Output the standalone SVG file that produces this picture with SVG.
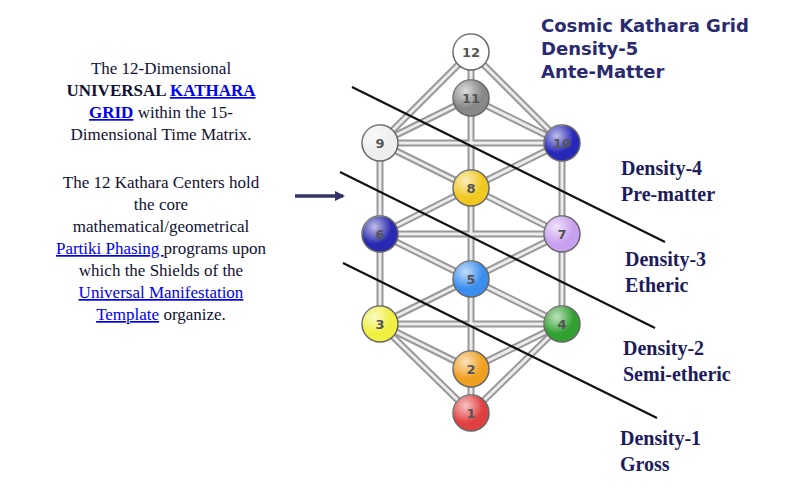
<svg xmlns="http://www.w3.org/2000/svg" width="790" height="493" viewBox="0 0 790 493">
<defs>
<style>
.t{font-family:"Liberation Serif",serif;font-size:17px;fill:#111133;text-anchor:middle}
.a{fill:#0000ee;text-decoration:underline}
.d{font-family:"Liberation Serif",serif;font-size:20px;font-weight:bold;fill:#1c1c5c}
.c{font-family:"DejaVu Sans",sans-serif;font-size:18px;font-weight:bold;fill:#2a2a70}
.eo{stroke:#999;stroke-width:7;fill:none}
.ei{stroke:#ececec;stroke-width:3;fill:none}
.n{stroke:#666;stroke-width:1.5}
.nl{font-family:"DejaVu Sans",sans-serif;font-size:13px;font-weight:bold;fill:#555;text-anchor:middle}
.dl{stroke:#111;stroke-width:2.2}
</style>
<radialGradient id="g" cx="0.35" cy="0.3" r="0.8"><stop offset="0" stop-color="#fff" stop-opacity="0.7"/><stop offset="0.6" stop-color="#fff" stop-opacity="0"/></radialGradient>
<marker id="ar" markerWidth="10" markerHeight="10" refX="8" refY="5" orient="auto" markerUnits="userSpaceOnUse"><path d="M0,0 L10,5 L0,10 z" fill="#333366"/></marker>
</defs>
<rect width="790" height="493" fill="#fff"/>
<g id="text-left">
<text class="t" x="161" y="74">The 12-Dimensional</text>
<text class="t" x="161" y="96"><tspan font-weight="bold">UNIVERSAL </tspan><tspan class="a" font-weight="bold">KATHARA</tspan></text>
<text class="t" x="161" y="118"><tspan class="a" font-weight="bold">GRID</tspan> within the 15-</text>
<text class="t" x="161" y="140">Dimensional Time Matrix.</text>
<text class="t" x="161" y="188">The 12 Kathara Centers hold</text>
<text class="t" x="161" y="210">the core</text>
<text class="t" x="161" y="232">mathematical/geometrical</text>
<text class="t" x="161" y="254"><tspan class="a">Partiki Phasing </tspan>programs upon</text>
<text class="t" x="161" y="276">which the Shields of the</text>
<text class="t" x="161" y="298"><tspan class="a">Universal Manifestation</tspan></text>
<text class="t" x="161" y="320"><tspan class="a">Template</tspan> organize.</text>
</g>
<g id="connectors">
<path class="eo" d="M471,52L471,98 M471,52L380,143 M471,52L562,143 M471,98L380,143 M471,98L562,143 M471,98L471,369 M380,143L562,143 M380,143L471,188 M562,143L471,188 M380,143L380,324 M562,143L562,324 M471,188L380,234 M471,188L562,234 M380,234L562,234 M380,234L471,279 M562,234L471,279 M471,279L380,324 M471,279L562,324 M380,324L562,324 M380,324L471,369 M562,324L471,369 M471,369L471,413 M380,324L471,413 M562,324L471,413"/>
<path class="ei" d="M471,52L471,98 M471,52L380,143 M471,52L562,143 M471,98L380,143 M471,98L562,143 M471,98L471,369 M380,143L562,143 M380,143L471,188 M562,143L471,188 M380,143L380,324 M562,143L562,324 M471,188L380,234 M471,188L562,234 M380,234L562,234 M380,234L471,279 M562,234L471,279 M471,279L380,324 M471,279L562,324 M380,324L562,324 M380,324L471,369 M562,324L471,369 M471,369L471,413 M380,324L471,413 M562,324L471,413"/>
<line class="dl" x1="352" y1="87" x2="665" y2="242"/>
<line class="dl" x1="340" y1="172" x2="655" y2="328"/>
<line class="dl" x1="343" y1="263" x2="657" y2="418"/>
<line x1="295" y1="196" x2="343" y2="196" stroke="#333366" stroke-width="3.5" marker-end="url(#ar)"/>
</g>
<g id="n12"><circle class="n" cx="471" cy="52" r="18" fill="#ffffff"/><circle cx="471" cy="52" r="18" fill="url(#g)"/><text class="nl" x="471" y="57">12</text></g>
<g id="n11"><circle class="n" cx="471" cy="98" r="18" fill="#888"/><circle cx="471" cy="98" r="18" fill="url(#g)"/><text class="nl" x="471" y="103" fill="#444">11</text></g>
<g id="n9"><circle class="n" cx="380" cy="143" r="18" fill="#eee"/><circle cx="380" cy="143" r="18" fill="url(#g)"/><text class="nl" x="380" y="148">9</text></g>
<g id="n10"><circle class="n" cx="562" cy="143" r="18" fill="#2828b8"/><circle cx="562" cy="143" r="18" fill="url(#g)"/><text class="nl" x="562" y="148" fill="#9999cc">10</text></g>
<g id="n8"><circle class="n" cx="471" cy="188" r="18" fill="#f0c820"/><circle cx="471" cy="188" r="18" fill="url(#g)"/><text class="nl" x="471" y="193">8</text></g>
<g id="n6"><circle class="n" cx="380" cy="234" r="18" fill="#2828b0"/><circle cx="380" cy="234" r="18" fill="url(#g)"/><text class="nl" x="380" y="239" fill="#8888cc">6</text></g>
<g id="n7"><circle class="n" cx="562" cy="234" r="18" fill="#c8a0f0"/><circle cx="562" cy="234" r="18" fill="url(#g)"/><text class="nl" x="562" y="239">7</text></g>
<g id="n5"><circle class="n" cx="471" cy="279" r="18" fill="#3a8ef0"/><circle cx="471" cy="279" r="18" fill="url(#g)"/><text class="nl" x="471" y="284">5</text></g>
<g id="n3"><circle class="n" cx="380" cy="324" r="18" fill="#f0f040"/><circle cx="380" cy="324" r="18" fill="url(#g)"/><text class="nl" x="380" y="329">3</text></g>
<g id="n4"><circle class="n" cx="562" cy="324" r="18" fill="#30a030"/><circle cx="562" cy="324" r="18" fill="url(#g)"/><text class="nl" x="562" y="329">4</text></g>
<g id="n2"><circle class="n" cx="471" cy="369" r="18" fill="#f0a020"/><circle cx="471" cy="369" r="18" fill="url(#g)"/><text class="nl" x="471" y="374">2</text></g>
<g id="n1"><circle class="n" cx="471" cy="413" r="18" fill="#e04040"/><circle cx="471" cy="413" r="18" fill="url(#g)"/><text class="nl" x="471" y="418">1</text></g>
<g id="text-right">
<text class="c" x="541" y="32">Cosmic Kathara Grid</text>
<text class="c" x="541" y="55">Density-5</text>
<text class="c" x="541" y="78">Ante-Matter</text>
<text class="d" x="621" y="175">Density-4</text>
<text class="d" x="621" y="201">Pre-matter</text>
<text class="d" x="625" y="266">Density-3</text>
<text class="d" x="625" y="292">Etheric</text>
<text class="d" x="623" y="355">Density-2</text>
<text class="d" x="623" y="381">Semi-etheric</text>
<text class="d" x="620" y="445">Density-1</text>
<text class="d" x="620" y="471">Gross</text>
</g>
</svg>
